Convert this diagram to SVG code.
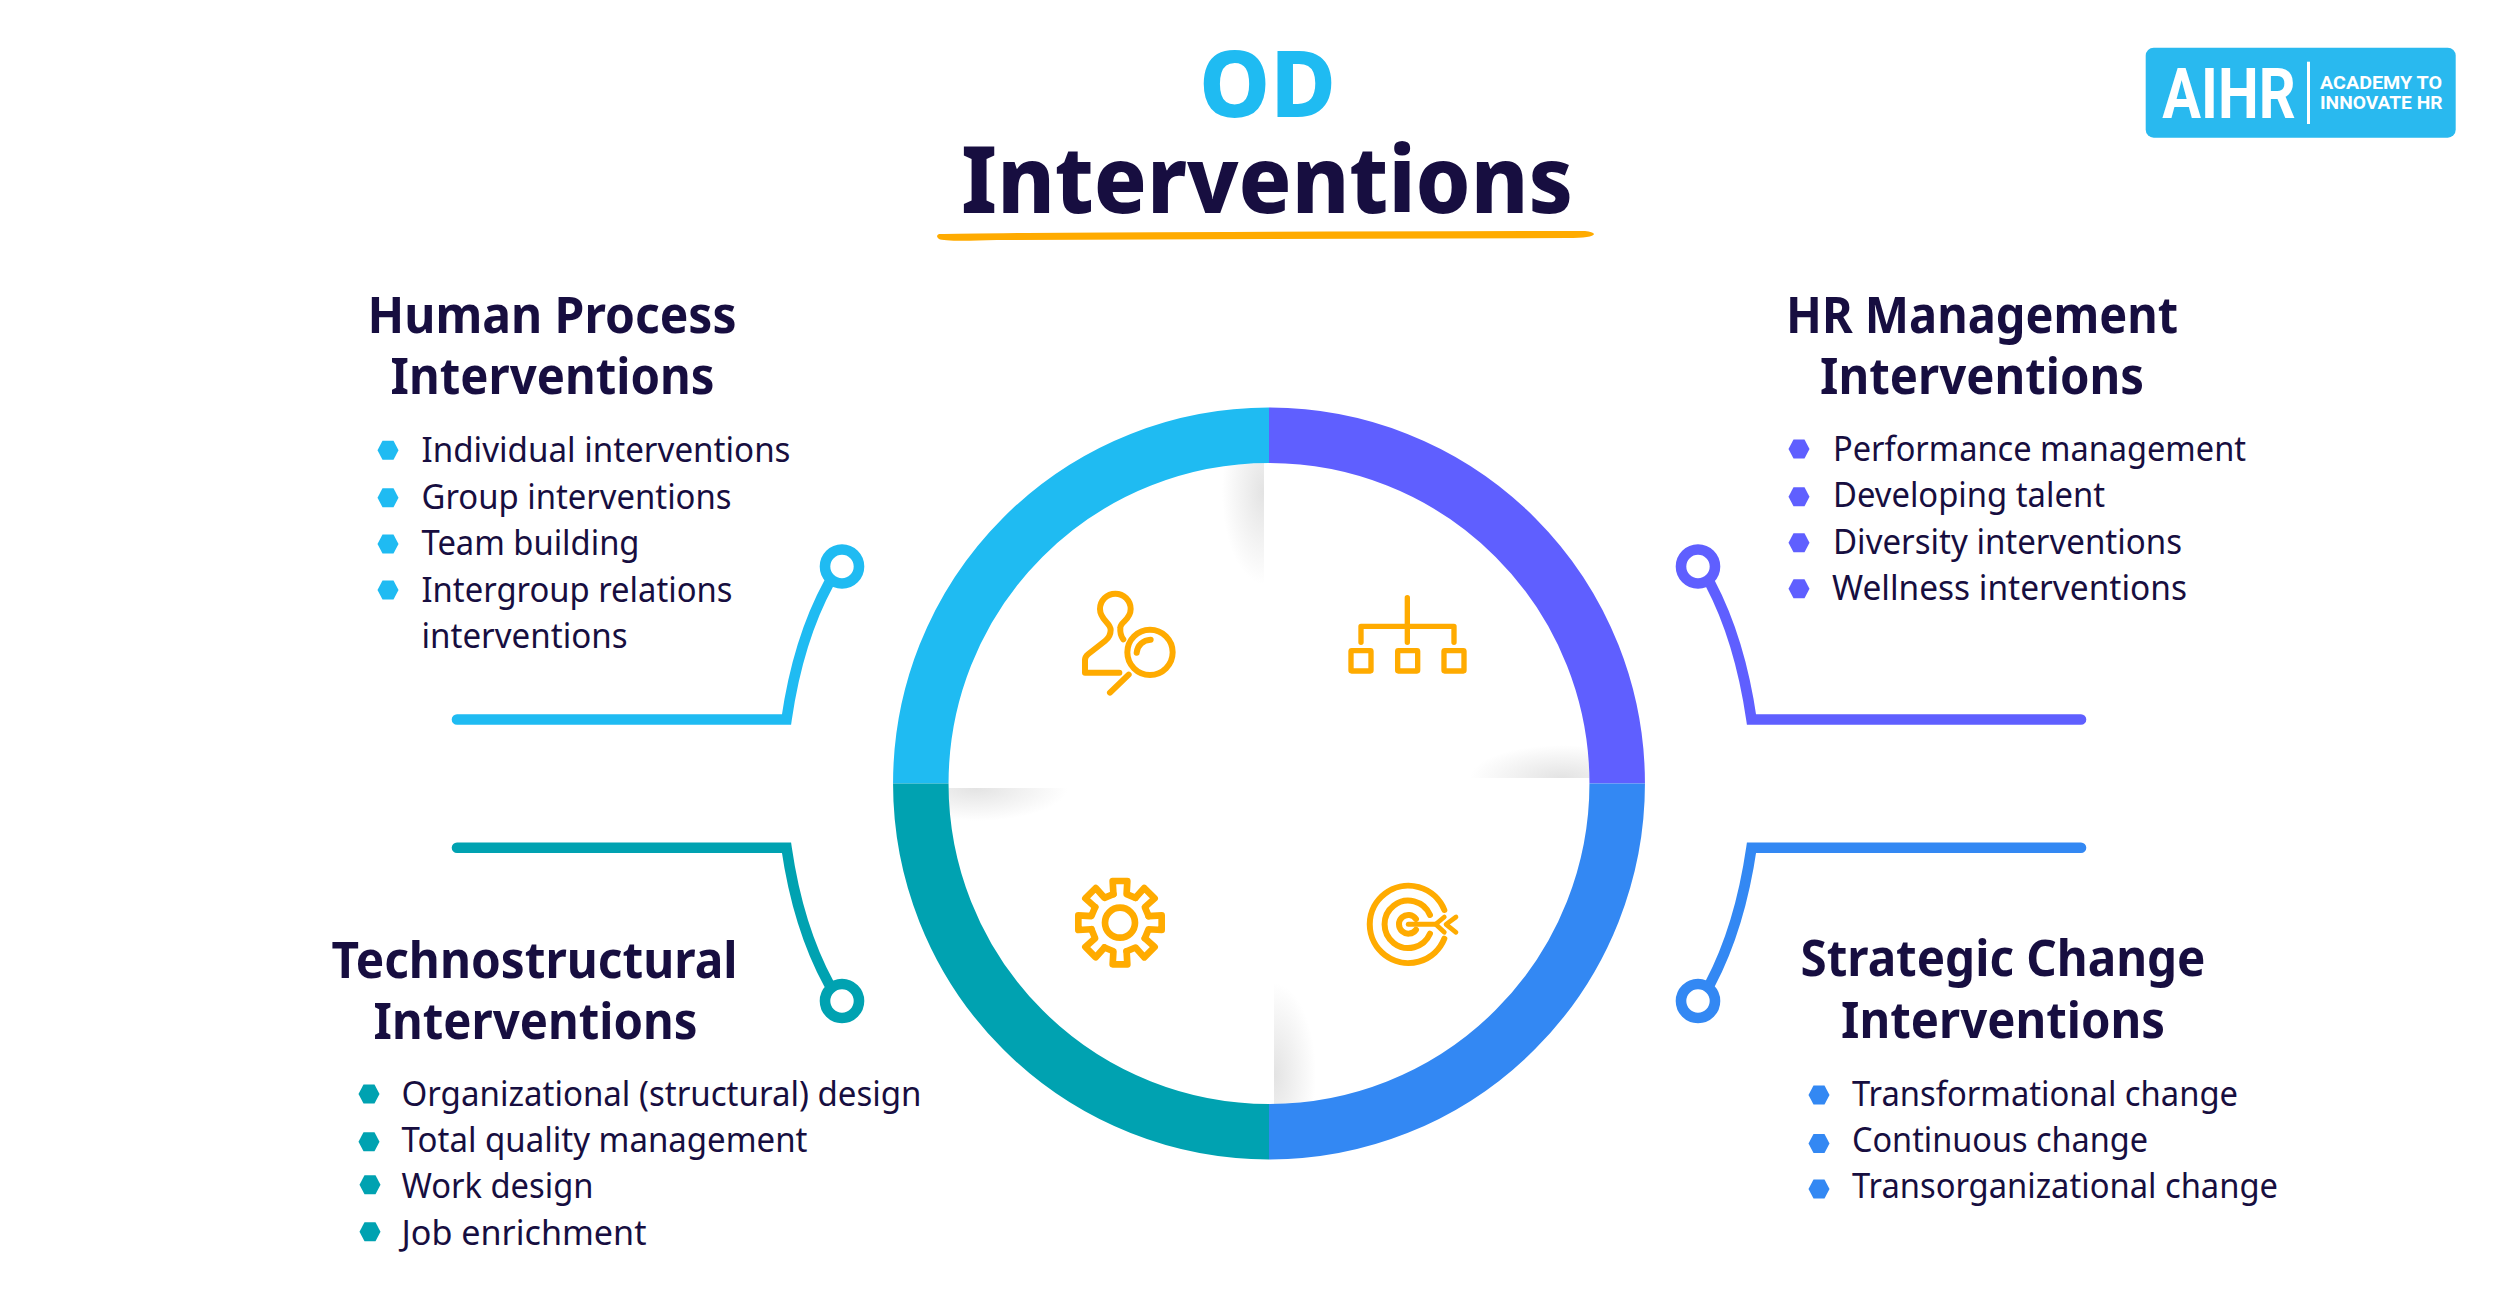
<svg xmlns="http://www.w3.org/2000/svg" xmlns:xlink="http://www.w3.org/1999/xlink" width="2501" height="1307" viewBox="0 0 2501 1307">
<style>
text{font-family:"Noto Sans","Open Sans",sans-serif;fill:#170E40}
.t{font-size:92px;font-weight:800}
.h{font-size:50px;font-weight:700}
.l{font-size:34px;font-weight:400}
.lg{fill:#fff;font-family:Roboto,"Liberation Sans",sans-serif;font-weight:700}
.seg,.con{fill:none;stroke-width:55.5}
.con{stroke-width:10.6;stroke-linecap:round;stroke-linejoin:miter}
.dot{fill:#fff;stroke-width:10.6}
.ic{fill:none;stroke:#FFAB00;stroke-width:18;stroke-linecap:round;stroke-linejoin:round}
.cy{stroke:#1FBBF2;fill:#1FBBF2}.pu{stroke:#5F5FFF;fill:#5F5FFF}.te{stroke:#00A2B1;fill:#00A2B1}.bl{stroke:#3388F3;fill:#3388F3}
.seg.cy,.seg.pu,.seg.te,.seg.bl,.con.cy,.con.pu,.con.te,.con.bl{fill:none}
.dot.cy,.dot.pu,.dot.te,.dot.bl{fill:#fff}
use.b{stroke:none}
</style>
<defs>
<path id="hex" d="M-10.5 0L-5.5-9.5H5.5L10.5 0L5.5 9.5H-5.5Z"/>
<path id="tooth" d="M-19.8-85.7L-22-125H22L19.8-85.7L46.6-74.6"/>
<radialGradient id="sh"><stop offset="0" stop-color="#e3e3e3"/><stop offset=".5" stop-color="#f1f1f1"/><stop offset="1" stop-color="#fff"/></radialGradient>
<clipPath id="cTL"><path d="M1264 463A320.5 320.5 0 0 0 948.5 783H1264Z"/></clipPath>
<clipPath id="cTR"><path d="M1269 463A320.5 320.5 0 0 1 1589.5 778H1269Z"/></clipPath>
<clipPath id="cBR"><path d="M1274 1104A320.5 320.5 0 0 0 1589.5 788H1274Z"/></clipPath>
<clipPath id="cBL"><path d="M948.5 788A320.5 320.5 0 0 0 1264 1104V788Z"/></clipPath>
</defs>
<rect width="2501" height="1307" fill="#fff"/>

<g id="title">
<text class="t" x="1199" y="116.7" style="fill:#1FBBF2" textLength="137" lengthAdjust="spacingAndGlyphs">OD</text>
<text class="t" x="961" y="212.7" textLength="612" lengthAdjust="spacingAndGlyphs">Interventions</text>
<path d="M939 234Q997 232 1585 231Q1593 232 1594 234Q1593 238 1567 238L997 240Q945 242 939 239Q935 236 939 234Z" fill="#FFAB00"/>
</g>

<g id="logo">
<rect x="2145.7" y="47.7" width="310" height="90" rx="8" fill="#29B9EF"/>
<text class="lg" x="2162.3" y="117.7" font-size="71" textLength="133.4" lengthAdjust="spacingAndGlyphs">AIHR</text>
<rect x="2307" y="61.7" width="3" height="62.3" fill="#fff"/>
<text class="lg" x="2320" y="89.3" font-size="18" textLength="122" lengthAdjust="spacingAndGlyphs">ACADEMY TO</text>
<text class="lg" x="2320" y="109.3" font-size="18" textLength="122.5" lengthAdjust="spacingAndGlyphs">INNOVATE HR</text>
</g>

<g id="ring">
<g clip-path="url(#cTL)"><ellipse cx="1264" cy="492" rx="42" ry="92" fill="url(#sh)"/></g>
<g clip-path="url(#cTR)"><ellipse cx="1562" cy="778" rx="92" ry="33" fill="url(#sh)"/></g>
<g clip-path="url(#cBR)"><ellipse cx="1274" cy="1075" rx="42" ry="92" fill="url(#sh)"/></g>
<g clip-path="url(#cBL)"><ellipse cx="976" cy="788" rx="92" ry="33" fill="url(#sh)"/></g>
<path class="seg cy" d="M920.8 783.5A348.2 348.2 0 0 1 1269 435.3"/>
<path class="seg pu" d="M1269 435.3A348.2 348.2 0 0 1 1617.2 783.5"/>
<path class="seg bl" d="M1617.2 783.5A348.2 348.2 0 0 1 1269 1131.7"/>
<path class="seg te" d="M1269 1131.7A348.2 348.2 0 0 1 920.8 783.5"/>
</g>

<g id="connectors">
<path class="con cy" d="M457 719.5H786.5Q798 640 829 583"/>
<circle class="dot cy" cx="842" cy="566.5" r="17"/>
<path class="con pu" d="M2081 719.5H1751.5Q1740 640 1710 583"/>
<circle class="dot pu" cx="1698" cy="566.5" r="17"/>
<path class="con te" d="M457 847.7H786.5Q798 927 829 984"/>
<circle class="dot te" cx="842" cy="1001" r="17"/>
<path class="con bl" d="M2081 847.7H1751.5Q1740 927 1710 984"/>
<circle class="dot bl" cx="1698" cy="1001" r="17"/>
</g>

<g id="node-human-process">
<text class="h" x="367.5" y="332.7" textLength="369" lengthAdjust="spacingAndGlyphs">Human Process</text>
<text class="h" x="390.5" y="394" textLength="324" lengthAdjust="spacingAndGlyphs">Interventions</text>
<use class="cy b" href="#hex" x="388" y="450.3"/><use class="cy b" href="#hex" x="388" y="497.7"/><use class="cy b" href="#hex" x="388" y="544"/><use class="cy b" href="#hex" x="388" y="590"/>
<text class="l" x="421.5" y="462" textLength="369" lengthAdjust="spacingAndGlyphs">Individual interventions</text>
<text class="l" x="421.5" y="508.5" textLength="310" lengthAdjust="spacingAndGlyphs">Group interventions</text>
<text class="l" x="421.5" y="554.7" textLength="218" lengthAdjust="spacingAndGlyphs">Team building</text>
<text class="l" x="421.5" y="601.7" textLength="311" lengthAdjust="spacingAndGlyphs">Intergroup relations</text>
<text class="l" x="421.5" y="647.5" textLength="206" lengthAdjust="spacingAndGlyphs">interventions</text>
<g class="ic" transform="translate(1040 560) scale(.33333)">
<path d="M250 238C240 225 240 215 241 203C241 185 272 180 272 147A46 46 0 1 0 180 147C180 180 212 188 212 210C212 225 205 235 195 243L145 282Q135 290 135 300V338H238"/>
<circle cx="330" cy="277" r="68"/>
<path d="M290 278C292 255 310 240 332 239"/>
<path d="M266 344L210 398"/>
</g>
</g>

<g id="node-hr-management">
<text class="h" x="1786" y="332.7" textLength="392" lengthAdjust="spacingAndGlyphs">HR Management</text>
<text class="h" x="1820" y="394" textLength="324" lengthAdjust="spacingAndGlyphs">Interventions</text>
<use class="pu b" href="#hex" x="1799" y="449"/><use class="pu b" href="#hex" x="1799" y="496.7"/><use class="pu b" href="#hex" x="1799" y="542.7"/><use class="pu b" href="#hex" x="1799" y="588.7"/>
<text class="l" x="1833" y="461" textLength="413" lengthAdjust="spacingAndGlyphs">Performance management</text>
<text class="l" x="1833" y="507" textLength="272" lengthAdjust="spacingAndGlyphs">Developing talent</text>
<text class="l" x="1833" y="553.5" textLength="349" lengthAdjust="spacingAndGlyphs">Diversity interventions</text>
<text class="l" x="1832" y="600" textLength="355" lengthAdjust="spacingAndGlyphs">Wellness interventions</text>
<g class="ic" transform="translate(1040 560) scale(.33333)" style="stroke-width:16">
<path d="M1102 113V247M963 247V199H1242V247"/>
<rect x="933" y="272" width="60" height="61" rx="2"/>
<rect x="1073" y="272" width="60" height="61" rx="2"/>
<rect x="1212" y="272" width="60" height="61" rx="2"/>
</g>
</g>

<g id="node-technostructural">
<text class="h" x="331.5" y="977.7" textLength="406" lengthAdjust="spacingAndGlyphs">Technostructural</text>
<text class="h" x="373.5" y="1039" textLength="324" lengthAdjust="spacingAndGlyphs">Interventions</text>
<use class="te b" href="#hex" x="369" y="1094"/><use class="te b" href="#hex" x="369" y="1141.7"/><use class="te b" href="#hex" x="370" y="1184.7"/><use class="te b" href="#hex" x="370" y="1231.7"/>
<text class="l" x="401.5" y="1105.7" textLength="520" lengthAdjust="spacingAndGlyphs">Organizational (structural) design</text>
<text class="l" x="401.5" y="1151.5" textLength="406" lengthAdjust="spacingAndGlyphs">Total quality management</text>
<text class="l" x="401.5" y="1198.2" textLength="192" lengthAdjust="spacingAndGlyphs">Work design</text>
<text class="l" x="401.5" y="1244.5" textLength="245" lengthAdjust="spacingAndGlyphs">Job enrichment</text>
<g class="ic" transform="translate(1040 560) scale(.33333)" style="stroke-width:20">
<circle cx="240" cy="1088" r="45"/>
<use href="#tooth" transform="translate(240 1088)"/>
<use href="#tooth" transform="translate(240 1088) rotate(45)"/>
<use href="#tooth" transform="translate(240 1088) rotate(90)"/>
<use href="#tooth" transform="translate(240 1088) rotate(135)"/>
<use href="#tooth" transform="translate(240 1088) rotate(180)"/>
<use href="#tooth" transform="translate(240 1088) rotate(225)"/>
<use href="#tooth" transform="translate(240 1088) rotate(270)"/>
<use href="#tooth" transform="translate(240 1088) rotate(315)"/>
</g>
</g>

<g id="node-strategic-change">
<text class="h" x="1800.5" y="976" textLength="405" lengthAdjust="spacingAndGlyphs">Strategic Change</text>
<text class="h" x="1841" y="1038" textLength="324" lengthAdjust="spacingAndGlyphs">Interventions</text>
<use class="bl b" href="#hex" x="1819" y="1095"/><use class="bl b" href="#hex" x="1819" y="1143.5"/><use class="bl b" href="#hex" x="1819" y="1189"/>
<text class="l" x="1852" y="1105.7" textLength="386" lengthAdjust="spacingAndGlyphs">Transformational change</text>
<text class="l" x="1852" y="1151.5" textLength="296" lengthAdjust="spacingAndGlyphs">Continuous change</text>
<text class="l" x="1852" y="1198.2" textLength="426" lengthAdjust="spacingAndGlyphs">Transorganizational change</text>
<g class="ic" transform="translate(1040 560) scale(.33333)">
<path d="M1213 1050A116 116 0 1 0 1213 1136"/>
<path d="M1170 1065A71 71 0 1 0 1170 1121"/>
<path d="M1128 1077A28 28 0 1 0 1128 1109"/>
<path d="M1105 1093H1190" style="stroke-width:15"/>
<path d="M1213 1071L1187 1093L1213 1117M1248 1071L1218 1093L1248 1117" style="stroke-width:14"/>
</g>
</g>
</svg>
